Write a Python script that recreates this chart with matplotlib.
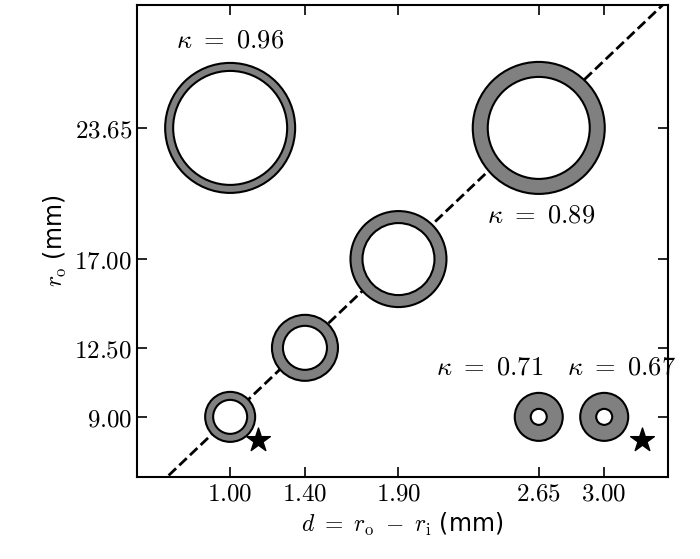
import matplotlib
matplotlib.use("Agg")
import matplotlib.pyplot as plt

plt.rcParams['mathtext.fontset'] = 'cm'

d_vals = [1.00, 1.40, 1.90, 1.00, 2.65, 2.65, 3.00]
ro_vals = [9.00, 12.50, 17.00, 23.65, 23.65, 9.00, 9.00]
# outer / inner ring radius, pixels
outer_px = [25, 33, 48, 65, 66, 24, 24]
inner_px = [17, 22, 36, 57, 51, 8, 8]

star_d = [1.15, 3.20]
star_ro = [7.85, 7.85]

labels = [r"$\kappa\ =\ 0.96$", r"$\kappa\ =\ 0.89$", r"$\kappa\ =\ 0.71$", r"$\kappa\ =\ 0.67$"]
label_d = [1.00, 2.66, 2.39, 3.09]
label_ro = [28.1, 19.2, 11.5, 11.5]

xticks = [1.00, 1.40, 1.90, 2.65, 3.00]
yticks = [9.00, 12.50, 17.00, 23.65]

fig = plt.figure(figsize=(7, 5.59), dpi=100)
ax = fig.add_axes([0.196, 0.147, 0.758, 0.844])

line_d = [0.5, 3.4]
ax.plot(line_d, [9.03 * v - 0.03 for v in line_d], 'k--', lw=2, zorder=1)

px2pt = 0.72
ax.scatter(d_vals, ro_vals, s=[(2 * r * px2pt) ** 2 for r in outer_px],
           c='#808080', edgecolors='k', linewidths=1.5, zorder=2)
ax.scatter(d_vals, ro_vals, s=[(2 * r * px2pt) ** 2 for r in inner_px],
           c='white', edgecolors='k', linewidths=1.5, zorder=3)
ax.scatter(star_d, star_ro, marker='*', s=320, c='k', zorder=4)

for t, x, y in zip(labels, label_d, label_ro):
    ax.text(x, y, t, fontsize=19, ha='center', va='center')

ax.set_xlim(0.503, 3.34)
ax.set_ylim(5.96, 29.88)
ax.set_xticks(xticks)
ax.set_xticklabels(["$%.2f$" % v for v in xticks], fontsize=18)
ax.set_yticks(yticks)
ax.set_yticklabels(["$%.2f$" % v for v in yticks], fontsize=18)
ax.tick_params(direction='in', length=7, width=1.2, top=True, right=True)
for sp in ax.spines.values():
    sp.set_linewidth(1.5)
ax.set_xlabel(r"$d\ =\ r_\mathrm{o}\ -\ r_\mathrm{i}$ (mm)", fontsize=17)
ax.set_ylabel(r"$r_\mathrm{o}$ (mm)", fontsize=17)

fig.savefig("out.png", dpi=100)
